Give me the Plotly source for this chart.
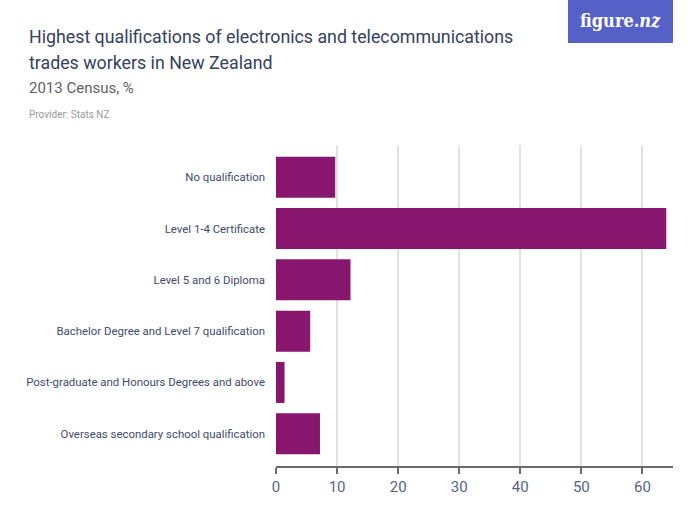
import plotly.graph_objects as go

categories = [
    "No qualification",
    "Level 1-4 Certificate",
    "Level 5 and 6 Diploma",
    "Bachelor Degree and Level 7 qualification",
    "Post-graduate and Honours Degrees and above",
    "Overseas secondary school qualification",
]
values = [9.7, 63.9, 12.2, 5.6, 1.4, 7.2]
x_ticks = [0, 10, 20, 30, 40, 50, 60]
title_lines = ["Highest qualifications of electronics and telecommunications",
               "trades workers in New Zealand"]

FONT = "Roboto, sans-serif"
TEXT = "#3f4b6b"

fig = go.Figure(go.Bar(
    x=values, y=categories, orientation="h",
    marker=dict(color="#89166e", line=dict(width=0)),
    width=0.8,
    hoverinfo="x+y",
))

fig.update_layout(
    width=700, height=525,
    margin=dict(l=276, r=27, t=145, b=59),
    paper_bgcolor="white", plot_bgcolor="white",
    font=dict(family=FONT, color=TEXT, size=12),
    showlegend=False,
    xaxis=dict(
        range=[0, 65], tickvals=x_ticks, showgrid=True, gridcolor="#e2e2e2", gridwidth=1.5,
        zeroline=False, showline=True, linecolor="#6b6b6b", linewidth=1.5,
        ticks="outside", ticklen=6, tickcolor="#6b6b6b", tickwidth=1.5,
        tickfont=dict(size=15, color="#56648a"), automargin=False,
    ),
    yaxis=dict(
        categoryorder="array", categoryarray=categories,
        range=[5.63, -0.63], showgrid=False, zeroline=False, showline=False,
        ticks="", ticklabelstandoff=10, automargin=False,
        tickfont=dict(size=11.4, color=TEXT),
    ),
)

L = (27 - 276) / 397
for line, yc in zip(title_lines, [37, 62]):
    fig.add_annotation(
        text=line, xref="paper", yref="paper", x=L, y=1 + (145 - yc) / 321,
        xanchor="left", yanchor="middle", align="left", showarrow=False,
        font=dict(size=17.8, color="#35415f", family=FONT),
    )
fig.add_annotation(
    text="2013 Census, %", xref="paper", yref="paper",
    x=L, y=1 + (145 - 88) / 321, xanchor="left", yanchor="middle",
    showarrow=False, font=dict(size=15, color="#5f5f5f", family=FONT),
)
fig.add_annotation(
    text="Provider: Stats NZ", xref="paper", yref="paper",
    x=L, y=1 + (145 - 114) / 321, xanchor="left", yanchor="middle",
    showarrow=False, font=dict(size=10, color="#9a9a9a", family=FONT),
)
fig.add_shape(
    type="rect", xref="paper", yref="paper",
    x0=(568 - 276) / 397, x1=(673 - 276) / 397,
    y0=1 + (145 - 43) / 321, y1=1 + 145 / 321,
    fillcolor="#5561c6", line=dict(width=0),
)
fig.add_annotation(
    text="<b>figure.<i>nz</i></b>", xref="paper", yref="paper",
    x=(620.5 - 276) / 397, y=1 + (145 - 20) / 321, xanchor="center", yanchor="middle",
    showarrow=False, font=dict(size=18, color="white", family="DejaVu Serif Condensed, Liberation Serif, serif"),
)

fig.write_html("out.html")
